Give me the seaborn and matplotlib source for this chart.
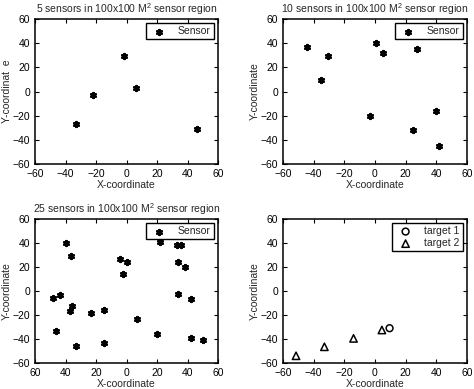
import matplotlib
matplotlib.use("Agg")
import matplotlib.pyplot as plt
import seaborn as sns
import pandas as pd

# ---- data ----
s5_x = [-33, -22, -1.5, 6, 46]
s5_y = [-27, -2.5, 29, 2.5, -31]

s10_x = [-44.5, -30.5, -35, 0.5, 5, 27.5, -3.5, 40, 25, 41.5]
s10_y = [36.5, 29, 9.5, 40, 31.5, 35, -20, -16, -32, -45.5]

s25_x = [-39.5, -36.5, -4.5, 0.5, -2.5, 22, 33, 35.5, 33.5, 38.5, 34, 42,
         -48, -43.5, -36, -37, -23.5, -14.5, 7, -46, -33, -14.5, 20, 42, 50]
s25_y = [40, 29.5, 27, 24, 14.5, 41, 38.5, 38, 24.5, 20, -2.5, -6.5,
         -5.5, -3.5, -12.5, -17, -18, -15.5, -23, -33, -45.5, -43.5, -36, -39.5, -40.5]

t1_x = [9.5]
t1_y = [-31]
t2_x = [4.5, -14, -33, -51.5]
t2_y = [-32.5, -39.5, -46.5, -54]

ticks = [-60, -40, -20, 0, 20, 40, 60]
tick_labels_panel3 = ["60", "40", "20", "0", "20", "40", "60"]

titles = ["5 sensors in 100x100 M$^2$ sensor region",
          "10 sensors in 100x100 M$^2$ sensor region",
          "25 sensors in 100x100 M$^2$ sensor region",
          ""]
ylabels = ["Y-coordinat  e", "Y-coordinate", "Y-coordinate", "Y-coordinate"]
xlabel = "X-coordinate"

sns.set_style("ticks")
plt.rcParams['font.family'] = ['Liberation Sans', 'DejaVu Sans']
plt.rcParams['mathtext.fontset'] = 'custom'
plt.rcParams['mathtext.rm'] = 'Liberation Sans'
plt.rcParams['mathtext.it'] = 'Liberation Sans'

fig = plt.figure(figsize=(4.74, 3.89), dpi=100)
rects = [
    [35/474, (389-164)/389, 183/474, 145/389],
    [283/474, (389-164)/389, 184/474, 145/389],
    [35/474, (389-363)/389, 183/474, 144/389],
    [283/474, (389-363)/389, 184/474, 144/389],
]
axes = [fig.add_axes(r) for r in rects]

fs = 7.5
ast = (6, 2, 0)

def style(ax, i):
    ax.set_xlim(-60, 60)
    ax.set_ylim(-60, 60)
    ax.set_xticks(ticks)
    ax.set_yticks(ticks)
    if i == 2:
        ax.set_xticklabels(tick_labels_panel3)
    ax.tick_params(direction="in", top=True, right=True, labelsize=fs,
                   length=3, width=0.8, colors="black")
    ax.tick_params(axis="x", pad=3.5)
    ax.tick_params(axis="y", pad=3.5)
    for sp in ax.spines.values():
        sp.set_visible(True)
        sp.set_linewidth(1.1)
        sp.set_color("black")
    ax.set_xlabel(xlabel, fontsize=fs, labelpad=0.5)
    ax.set_ylabel(ylabels[i], fontsize=fs, labelpad=0.5)
    if titles[i]:
        ax.set_title(titles[i], fontsize=fs, pad=4)

def sensor_panel(ax, xs, ys, i):
    df = pd.DataFrame({"x": xs, "y": ys})
    sns.scatterplot(data=df, x="x", y="y", ax=ax, marker=ast, s=12,
                    color="black", edgecolor="black", linewidth=1.8,
                    label="Sensor")
    style(ax, i)
    ax.legend(loc="upper right", fontsize=fs, frameon=True, fancybox=False,
              edgecolor="black", framealpha=1, borderpad=0.3,
              handletextpad=0.8, borderaxespad=0.4)
    ax.get_legend().get_frame().set_linewidth(1.0)

sensor_panel(axes[0], s5_x, s5_y, 0)
sensor_panel(axes[1], s10_x, s10_y, 1)
sensor_panel(axes[2], s25_x, s25_y, 2)

ax = axes[3]
d1 = pd.DataFrame({"x": t1_x, "y": t1_y})
d2 = pd.DataFrame({"x": t2_x, "y": t2_y})
sns.scatterplot(data=d1, x="x", y="y", ax=ax, marker="o", s=24,
                facecolor="none", edgecolor="black", linewidth=1.1, label="target 1")
sns.scatterplot(data=d2, x="x", y="y", ax=ax, marker="^", s=28,
                facecolor="none", edgecolor="black", linewidth=1.1, label="target 2")
style(ax, 3)
leg = ax.legend(loc="upper right", fontsize=fs, frameon=True, fancybox=False,
                edgecolor="black", framealpha=1, borderpad=0.3,
                handletextpad=0.8, borderaxespad=0.4, labelspacing=0.2)
leg.get_frame().set_linewidth(1.0)

fig.savefig("out.png", dpi=100)
